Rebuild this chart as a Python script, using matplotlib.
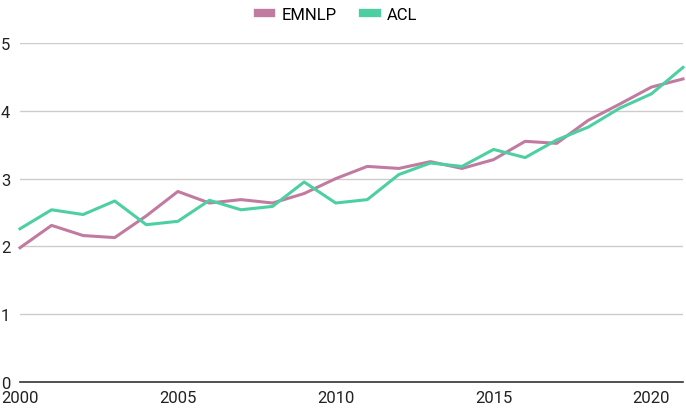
import matplotlib
matplotlib.use("Agg")
import matplotlib.pyplot as plt

years = list(range(2000, 2022))
emnlp = [1.98, 2.31, 2.16, 2.13, 2.45, 2.81, 2.64, 2.69, 2.64, 2.78, 3.00,
         3.18, 3.15, 3.25, 3.15, 3.28, 3.55, 3.52, 3.86, 4.10, 4.35, 4.47]
acl = [2.26, 2.54, 2.47, 2.67, 2.32, 2.37, 2.68, 2.54, 2.59, 2.95, 2.64,
       2.69, 3.06, 3.23, 3.18, 3.43, 3.31, 3.57, 3.76, 4.04, 4.25, 4.64]
xticks = [2000, 2005, 2010, 2015, 2020]
yticks = [0, 1, 2, 3, 4, 5]

plt.rcParams["font.family"] = ["Roboto", "DejaVu Sans"]

fig = plt.figure(figsize=(6.86, 4.10), dpi=100)
ax = fig.add_axes([20/686, 1-383/410, 663/686, (383-44)/410])

ax.plot(years, emnlp, color="#c27ba0", lw=2.2, label="EMNLP", clip_on=False, zorder=3)
ax.plot(years, acl, color="#4dd0a1", lw=2.2, label="ACL", clip_on=False, zorder=3)

ax.set_xlim(2000, 2021)
ax.set_ylim(0, 5)
ax.set_xticks(xticks)
ax.set_yticks(yticks)
ax.grid(axis="y", color="#cccccc", lw=1)
ax.set_axisbelow(True)
for s in ["top", "right", "left"]:
    ax.spines[s].set_visible(False)
ax.spines["bottom"].set_color("#333333")
ax.spines["bottom"].set_linewidth(1.2)
ax.tick_params(length=0, labelsize=12, colors="#222222")
ax.tick_params(axis="y", pad=7)
ax.tick_params(axis="x", pad=6)

leg = fig.legend(loc="upper center", bbox_to_anchor=(0.492, 1.018), ncol=2, frameon=False,
                 fontsize=12, handlelength=0.8, columnspacing=1.6, handletextpad=0.6)
for h in leg.get_lines():
    h.set_linewidth(6)

fig.savefig("out.png", dpi=100)
